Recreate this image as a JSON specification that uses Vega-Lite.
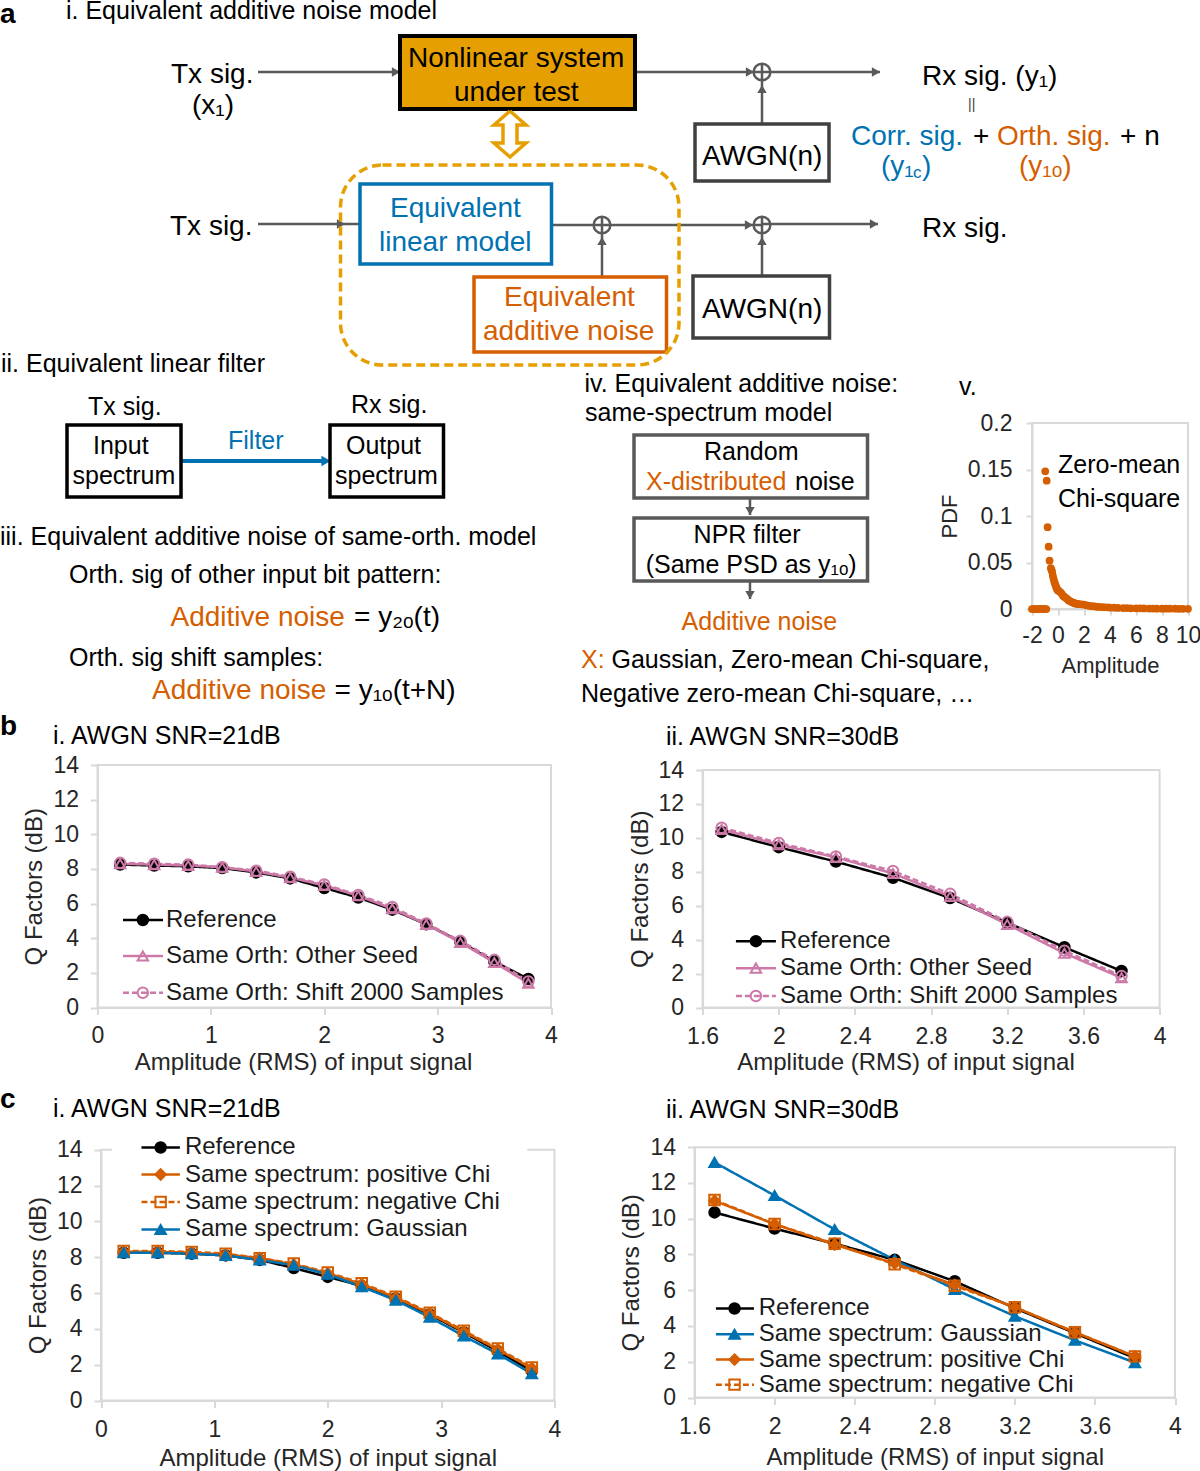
{
"$schema":"https://vega.github.io/schema/vega-lite/v6.json",
"autosize":"none",
"padding":{"left":97.5,"top":0,"right":1102.5,"bottom":1471},
"background":"#ffffff",
"columns":2,
"align":"none",
"bounds":"flush",
"spacing":{"column":100,"row":0},
"resolve":{"scale":{"stroke":"independent","fill":"independent","shape":"independent","strokeDash":"independent","color":"independent"}},
"config":{
  "view":{"stroke":null},
  "font":"Liberation Sans",
  "text":{"font":"Liberation Sans"},
  "axis":{"grid":false,"domainColor":"#d9d9d9","domainWidth":2,"tickColor":"#d9d9d9","tickWidth":2,"tickSize":7,"labelFont":"Liberation Sans","labelFontSize":23,"labelColor":"#262626","labelPadding":12,"labelFlush":false,"labelOverlap":false,"labelBound":false,"titleFont":"Liberation Sans","titleFontSize":24,"titleFontWeight":"normal","titleColor":"#262626"}
},
"datasets":{
  "t28":[
    {"x":171,"y":83,"label":"Tx sig.","tone":"black"},{"x":192,"y":114,"label":"(x₁)","tone":"black"},
    {"x":408,"y":67,"label":"Nonlinear system","tone":"black"},{"x":454,"y":101,"label":"under test","tone":"black"},
    {"x":702,"y":165,"label":"AWGN(n)","tone":"black"},{"x":922,"y":85,"label":"Rx sig. (y₁)","tone":"black"},
    {"x":851,"y":145,"label":"Corr. sig.","tone":"blue"},{"x":973,"y":145,"label":"+","tone":"black"},
    {"x":997,"y":145,"label":"Orth. sig.","tone":"orange"},{"x":1120,"y":145,"label":"+ n","tone":"black"},
    {"x":881,"y":175,"label":"(y₁","tone":"blue"},{"x":922,"y":175,"label":")","tone":"blue"},{"x":1019,"y":175,"label":"(y₁ₒ)","tone":"orange"},
    {"x":170,"y":235,"label":"Tx sig.","tone":"black"},{"x":390,"y":217,"label":"Equivalent","tone":"blue"},
    {"x":379,"y":251,"label":"linear model","tone":"blue"},{"x":504,"y":306,"label":"Equivalent","tone":"orange"},
    {"x":483,"y":340,"label":"additive noise","tone":"orange"},{"x":702,"y":318,"label":"AWGN(n)","tone":"black"},
    {"x":922,"y":237,"label":"Rx sig.","tone":"black"},{"x":170.5,"y":626,"label":"Additive noise","tone":"orange"},
    {"x":354,"y":626,"label":"= y₂ₒ(t)","tone":"black"},{"x":152,"y":699,"label":"Additive noise","tone":"orange"},
    {"x":334.5,"y":699,"label":"= y₁ₒ(t+N)","tone":"black"}
  ],
  "t25":[
    {"x":66,"y":19,"label":"i. Equivalent additive noise model","tone":"black"},
    {"x":1,"y":372,"label":"ii. Equivalent linear filter","tone":"black"},
    {"x":88,"y":415,"label":"Tx sig.","tone":"black"},{"x":351,"y":413,"label":"Rx sig.","tone":"black"},
    {"x":93,"y":454,"label":"Input","tone":"black"},{"x":72.5,"y":484,"label":"spectrum","tone":"black"},
    {"x":346,"y":454,"label":"Output","tone":"black"},{"x":335,"y":484,"label":"spectrum","tone":"black"},
    {"x":228,"y":449,"label":"Filter","tone":"blue"},
    {"x":0,"y":545,"label":"iii. Equivalent additive noise of same-orth. model","tone":"black"},
    {"x":69,"y":583,"label":"Orth. sig of other input bit pattern:","tone":"black"},
    {"x":69,"y":666,"label":"Orth. sig shift samples:","tone":"black"},
    {"x":584.5,"y":392,"label":"iv. Equivalent additive noise:","tone":"black"},
    {"x":585,"y":421,"label":"same-spectrum model","tone":"black"},
    {"x":704,"y":460,"label":"Random","tone":"black"},{"x":646,"y":490,"label":"X-distributed","tone":"orange"},
    {"x":795,"y":490,"label":"noise","tone":"black"},{"x":693.6,"y":543,"label":"NPR filter","tone":"black"},
    {"x":645.7,"y":573,"label":"(Same PSD as y₁ₒ)","tone":"black"},{"x":681.6,"y":630,"label":"Additive noise","tone":"orange"},
    {"x":581,"y":668,"label":"X:","tone":"orange"},{"x":611.5,"y":668,"label":"Gaussian, Zero-mean Chi-square,","tone":"black"},
    {"x":581,"y":702,"label":"Negative zero-mean Chi-square, …","tone":"black"},
    {"x":959,"y":395,"label":"v.","tone":"black"},{"x":1058,"y":473,"label":"Zero-mean","tone":"black"},{"x":1058,"y":507,"label":"Chi-square","tone":"black"},
    {"x":53,"y":744,"label":"i. AWGN SNR=21dB","tone":"black"},{"x":666,"y":745,"label":"ii. AWGN SNR=30dB","tone":"black"},
    {"x":53,"y":1117,"label":"i. AWGN SNR=21dB","tone":"black"},{"x":666,"y":1118,"label":"ii. AWGN SNR=30dB","tone":"black"}
  ],
  "letters":[{"x":0,"y":23,"label":"a"},{"x":0,"y":735,"label":"b"},{"x":0,"y":1108,"label":"c"}],
  "small":[{"x":968,"y":109,"label":"||"}],
  "sub":[{"x":913,"y":178,"label":"c"}],
  "wires":[
    {"x":258,"y":72,"x2":398,"y2":72},{"x":635,"y":72,"x2":880,"y2":72},{"x":762,"y":123,"x2":762,"y2":63},
    {"x":258,"y":224,"x2":360,"y2":224},{"x":552,"y":225,"x2":762,"y2":225},{"x":762,"y":224,"x2":878,"y2":224},
    {"x":602,"y":277,"x2":602,"y2":216},{"x":762,"y":275,"x2":762,"y2":216},
    {"x":750,"y":498,"x2":750,"y2":515},{"x":750,"y":581,"x2":750,"y2":599}
  ],
  "heads":[
    {"x":396,"y":72,"dir":"right"},{"x":750,"y":72,"dir":"right"},{"x":876,"y":72,"dir":"right"},{"x":762,"y":89,"dir":"up"},
    {"x":341,"y":224,"dir":"right"},{"x":749,"y":225,"dir":"right"},{"x":874,"y":224,"dir":"right"},
    {"x":602,"y":241,"dir":"up"},{"x":762,"y":241,"dir":"up"},{"x":750,"y":511,"dir":"down"},{"x":750,"y":595,"dir":"down"}
  ],
  "sums":[{"x":762,"y":72},{"x":602,"y":225},{"x":762,"y":225}],
  "filterLine":[{"x":181,"y":461,"x2":326,"y2":461}],
  "filterHead":[{"x":326,"y":461}],
  "filledBox":[{"x":400,"x2":635,"y":36,"y2":109}],
  "boxes":[
    {"x":695,"x2":829,"y":124,"y2":181,"tone":"dark"},{"x":360,"x2":551.5,"y":184,"y2":264,"tone":"blue"},
    {"x":474,"x2":666.5,"y":277,"y2":352,"tone":"orange"},{"x":693,"x2":829.5,"y":276,"y2":338,"tone":"dark"},
    {"x":67,"x2":181,"y":425,"y2":497,"tone":"black"},{"x":330,"x2":443.5,"y":425,"y2":497,"tone":"black"},
    {"x":634,"x2":867.5,"y":435,"y2":498,"tone":"gray"},{"x":634,"x2":867.5,"y":518,"y2":581,"tone":"gray"}
  ],
  "modelBox":[{"x":340.5,"x2":679,"y":165,"y2":365}],
  "doubleArrow":[
    {"x":510,"y":111,"step":0},{"x":526,"y":125,"step":1},{"x":517,"y":125,"step":2},{"x":517,"y":143,"step":3},
    {"x":526,"y":143,"step":4},{"x":510,"y":157,"step":5},{"x":494,"y":143,"step":6},{"x":503,"y":143,"step":7},
    {"x":503,"y":125,"step":8},{"x":494,"y":125,"step":9},{"x":510,"y":111,"step":10}
  ],
  "pdf":[
    {"a":-2,"p":0},{"a":-1.9,"p":0},{"a":-1.8,"p":0},{"a":-1.7,"p":0},{"a":-1.6,"p":0},{"a":-1.5,"p":0},{"a":-1.4,"p":0},{"a":-1.3,"p":0},{"a":-1.2,"p":0},{"a":-1.1,"p":0},{"a":-1,"p":0},{"a":-0.9,"p":0},
    {"a":-0.98,"p":0.148},{"a":-0.87,"p":0.138},{"a":-0.8,"p":0.088},{"a":-0.72,"p":0.067},{"a":-0.65,"p":0.052},{"a":-0.55,"p":0.044},{"a":-0.5,"p":0.042},{"a":-0.45,"p":0.04},{"a":-0.4,"p":0.036},{"a":-0.35,"p":0.033},{"a":-0.3,"p":0.03},{"a":-0.25,"p":0.028},{"a":-0.2,"p":0.026},{"a":-0.15,"p":0.024},{"a":-0.1,"p":0.022},{"a":-0.05,"p":0.021},{"a":0,"p":0.02},{"a":0.1,"p":0.019},{"a":0.2,"p":0.018},{"a":0.3,"p":0.016},{"a":0.4,"p":0.014},{"a":0.5,"p":0.013},{"a":0.6,"p":0.012},{"a":0.7,"p":0.011},{"a":0.8,"p":0.0095},{"a":0.9,"p":0.0085},{"a":1,"p":0.008},{"a":1.1,"p":0.0072},{"a":1.2,"p":0.0066},{"a":1.3,"p":0.006},{"a":1.4,"p":0.0058},{"a":1.5,"p":0.0055},{"a":1.6,"p":0.0052},{"a":1.8,"p":0.005},{"a":2,"p":0.0048},{"a":2.2,"p":0.004},{"a":2.4,"p":0.0034},{"a":2.6,"p":0.003},{"a":2.8,"p":0.0027},{"a":3,"p":0.0024},{"a":3.2,"p":0.0022},{"a":3.5,"p":0.002},{"a":3.8,"p":0.0018},{"a":4,"p":0.0016},{"a":4.3,"p":0.0014},{"a":4.6,"p":0.0012},{"a":5,"p":0.001},{"a":5.3,"p":0.001},{"a":5.6,"p":0.0008},{"a":6,"p":0.0007},{"a":6.3,"p":0.0007},{"a":6.6,"p":0.0006},{"a":7,"p":0.0005},{"a":7.3,"p":0.0005},{"a":7.6,"p":0.0004},{"a":8,"p":0.0004},{"a":8.3,"p":0.0003},{"a":8.6,"p":0.0003},{"a":9,"p":0.0003},{"a":9.3,"p":0.0002},{"a":9.6,"p":0.0002},{"a":10,"p":0.0002}
  ],
  "bi":[
    {"a":0.2,"q":8.25,"series":"Reference"},{"a":0.5,"q":8.2,"series":"Reference"},{"a":0.8,"q":8.15,"series":"Reference"},{"a":1.1,"q":8.05,"series":"Reference"},{"a":1.4,"q":7.8,"series":"Reference"},{"a":1.7,"q":7.45,"series":"Reference"},{"a":2,"q":6.9,"series":"Reference"},{"a":2.3,"q":6.35,"series":"Reference"},{"a":2.6,"q":5.65,"series":"Reference"},{"a":2.9,"q":4.8,"series":"Reference"},{"a":3.2,"q":3.8,"series":"Reference"},{"a":3.5,"q":2.65,"series":"Reference"},{"a":3.8,"q":1.65,"series":"Reference"},
    {"a":0.2,"q":8.3,"series":"Other Seed"},{"a":0.5,"q":8.25,"series":"Other Seed"},{"a":0.8,"q":8.2,"series":"Other Seed"},{"a":1.1,"q":8.1,"series":"Other Seed"},{"a":1.4,"q":7.85,"series":"Other Seed"},{"a":1.7,"q":7.5,"series":"Other Seed"},{"a":2,"q":7.05,"series":"Other Seed"},{"a":2.3,"q":6.45,"series":"Other Seed"},{"a":2.6,"q":5.7,"series":"Other Seed"},{"a":2.9,"q":4.8,"series":"Other Seed"},{"a":3.2,"q":3.75,"series":"Other Seed"},{"a":3.5,"q":2.6,"series":"Other Seed"},{"a":3.8,"q":1.4,"series":"Other Seed"},
    {"a":0.2,"q":8.35,"series":"Shift 2000"},{"a":0.5,"q":8.3,"series":"Shift 2000"},{"a":0.8,"q":8.25,"series":"Shift 2000"},{"a":1.1,"q":8.1,"series":"Shift 2000"},{"a":1.4,"q":7.9,"series":"Shift 2000"},{"a":1.7,"q":7.55,"series":"Shift 2000"},{"a":2,"q":7.1,"series":"Shift 2000"},{"a":2.3,"q":6.5,"series":"Shift 2000"},{"a":2.6,"q":5.8,"series":"Shift 2000"},{"a":2.9,"q":4.85,"series":"Shift 2000"},{"a":3.2,"q":3.85,"series":"Shift 2000"},{"a":3.5,"q":2.75,"series":"Shift 2000"},{"a":3.8,"q":1.5,"series":"Shift 2000"}
  ],
  "bii":[
    {"a":1.7,"q":10.35,"series":"Reference"},{"a":2,"q":9.45,"series":"Reference"},{"a":2.3,"q":8.6,"series":"Reference"},{"a":2.6,"q":7.65,"series":"Reference"},{"a":2.9,"q":6.45,"series":"Reference"},{"a":3.2,"q":5,"series":"Reference"},{"a":3.5,"q":3.55,"series":"Reference"},{"a":3.8,"q":2.15,"series":"Reference"},
    {"a":1.7,"q":10.5,"series":"Other Seed"},{"a":2,"q":9.6,"series":"Other Seed"},{"a":2.3,"q":8.85,"series":"Other Seed"},{"a":2.6,"q":7.9,"series":"Other Seed"},{"a":2.9,"q":6.55,"series":"Other Seed"},{"a":3.2,"q":4.9,"series":"Other Seed"},{"a":3.5,"q":3.2,"series":"Other Seed"},{"a":3.8,"q":1.75,"series":"Other Seed"},
    {"a":1.7,"q":10.6,"series":"Shift 2000"},{"a":2,"q":9.7,"series":"Shift 2000"},{"a":2.3,"q":8.9,"series":"Shift 2000"},{"a":2.6,"q":8.05,"series":"Shift 2000"},{"a":2.9,"q":6.7,"series":"Shift 2000"},{"a":3.2,"q":5.05,"series":"Shift 2000"},{"a":3.5,"q":3.35,"series":"Shift 2000"},{"a":3.8,"q":1.85,"series":"Shift 2000"}
  ],
  "ci":[
    {"a":0.2,"q":8.25,"series":"Reference"},{"a":0.5,"q":8.25,"series":"Reference"},{"a":0.8,"q":8.2,"series":"Reference"},{"a":1.1,"q":8.1,"series":"Reference"},{"a":1.4,"q":7.85,"series":"Reference"},{"a":1.7,"q":7.4,"series":"Reference"},{"a":2,"q":6.9,"series":"Reference"},{"a":2.3,"q":6.4,"series":"Reference"},{"a":2.6,"q":5.7,"series":"Reference"},{"a":2.9,"q":4.8,"series":"Reference"},{"a":3.2,"q":3.8,"series":"Reference"},{"a":3.5,"q":2.75,"series":"Reference"},{"a":3.8,"q":1.65,"series":"Reference"},
    {"a":0.2,"q":8.3,"series":"positive Chi"},{"a":0.5,"q":8.3,"series":"positive Chi"},{"a":0.8,"q":8.25,"series":"positive Chi"},{"a":1.1,"q":8.15,"series":"positive Chi"},{"a":1.4,"q":7.95,"series":"positive Chi"},{"a":1.7,"q":7.6,"series":"positive Chi"},{"a":2,"q":7.1,"series":"positive Chi"},{"a":2.3,"q":6.5,"series":"positive Chi"},{"a":2.6,"q":5.75,"series":"positive Chi"},{"a":2.9,"q":4.85,"series":"positive Chi"},{"a":3.2,"q":3.85,"series":"positive Chi"},{"a":3.5,"q":2.85,"series":"positive Chi"},{"a":3.8,"q":1.8,"series":"positive Chi"},
    {"a":0.2,"q":8.35,"series":"negative Chi"},{"a":0.5,"q":8.35,"series":"negative Chi"},{"a":0.8,"q":8.3,"series":"negative Chi"},{"a":1.1,"q":8.2,"series":"negative Chi"},{"a":1.4,"q":7.95,"series":"negative Chi"},{"a":1.7,"q":7.65,"series":"negative Chi"},{"a":2,"q":7.15,"series":"negative Chi"},{"a":2.3,"q":6.55,"series":"negative Chi"},{"a":2.6,"q":5.8,"series":"negative Chi"},{"a":2.9,"q":4.9,"series":"negative Chi"},{"a":3.2,"q":3.9,"series":"negative Chi"},{"a":3.5,"q":2.9,"series":"negative Chi"},{"a":3.8,"q":1.85,"series":"negative Chi"},
    {"a":0.2,"q":8.25,"series":"Gaussian"},{"a":0.5,"q":8.25,"series":"Gaussian"},{"a":0.8,"q":8.2,"series":"Gaussian"},{"a":1.1,"q":8.1,"series":"Gaussian"},{"a":1.4,"q":7.85,"series":"Gaussian"},{"a":1.7,"q":7.55,"series":"Gaussian"},{"a":2,"q":7.05,"series":"Gaussian"},{"a":2.3,"q":6.35,"series":"Gaussian"},{"a":2.6,"q":5.6,"series":"Gaussian"},{"a":2.9,"q":4.65,"series":"Gaussian"},{"a":3.2,"q":3.6,"series":"Gaussian"},{"a":3.5,"q":2.6,"series":"Gaussian"},{"a":3.8,"q":1.5,"series":"Gaussian"}
  ],
  "cii":[
    {"a":1.7,"q":10.35,"series":"Reference"},{"a":2,"q":9.45,"series":"Reference"},{"a":2.3,"q":8.6,"series":"Reference"},{"a":2.6,"q":7.7,"series":"Reference"},{"a":2.9,"q":6.5,"series":"Reference"},{"a":3.2,"q":5,"series":"Reference"},{"a":3.5,"q":3.6,"series":"Reference"},{"a":3.8,"q":2.2,"series":"Reference"},
    {"a":1.7,"q":13.15,"series":"Gaussian"},{"a":2,"q":11.3,"series":"Gaussian"},{"a":2.3,"q":9.4,"series":"Gaussian"},{"a":2.6,"q":7.7,"series":"Gaussian"},{"a":2.9,"q":6.05,"series":"Gaussian"},{"a":3.2,"q":4.55,"series":"Gaussian"},{"a":3.5,"q":3.2,"series":"Gaussian"},{"a":3.8,"q":1.95,"series":"Gaussian"},
    {"a":1.7,"q":11,"series":"positive Chi"},{"a":2,"q":9.7,"series":"positive Chi"},{"a":2.3,"q":8.55,"series":"positive Chi"},{"a":2.6,"q":7.5,"series":"positive Chi"},{"a":2.9,"q":6.3,"series":"positive Chi"},{"a":3.2,"q":5.05,"series":"positive Chi"},{"a":3.5,"q":3.65,"series":"positive Chi"},{"a":3.8,"q":2.3,"series":"positive Chi"},
    {"a":1.7,"q":11.05,"series":"negative Chi"},{"a":2,"q":9.7,"series":"negative Chi"},{"a":2.3,"q":8.6,"series":"negative Chi"},{"a":2.6,"q":7.45,"series":"negative Chi"},{"a":2.9,"q":6.25,"series":"negative Chi"},{"a":3.2,"q":5.05,"series":"negative Chi"},{"a":3.5,"q":3.65,"series":"negative Chi"},{"a":3.8,"q":2.3,"series":"negative Chi"}
  ],
  "biKey":[
    {"a":0.225,"a2":0.578,"am":0.4,"at":0.604,"q":5.05,"series":"Reference","label":"Reference"},
    {"a":0.225,"a2":0.578,"am":0.4,"at":0.604,"q":2.97,"series":"Other Seed","label":"Same Orth: Other Seed"},
    {"a":0.225,"a2":0.578,"am":0.4,"at":0.604,"q":0.85,"series":"Shift 2000","label":"Same Orth: Shift 2000 Samples"}
  ],
  "biiKey":[
    {"a":1.775,"a2":1.985,"am":1.88,"at":2.006,"q":3.91,"series":"Reference","label":"Reference"},
    {"a":1.775,"a2":1.985,"am":1.88,"at":2.006,"q":2.32,"series":"Other Seed","label":"Same Orth: Other Seed"},
    {"a":1.775,"a2":1.985,"am":1.88,"at":2.006,"q":0.68,"series":"Shift 2000","label":"Same Orth: Shift 2000 Samples"}
  ],
  "ciKey":[
    {"a":0.357,"a2":0.696,"am":0.526,"at":0.74,"q":14.13,"series":"Reference","label":"Reference"},
    {"a":0.357,"a2":0.696,"am":0.526,"at":0.74,"q":12.62,"series":"positive Chi","label":"Same spectrum: positive Chi"},
    {"a":0.357,"a2":0.696,"am":0.526,"at":0.74,"q":11.08,"series":"negative Chi","label":"Same spectrum: negative Chi"},
    {"a":0.357,"a2":0.696,"am":0.526,"at":0.74,"q":9.55,"series":"Gaussian","label":"Same spectrum: Gaussian"}
  ],
  "ciiKey":[
    {"a":1.707,"a2":1.897,"am":1.8,"at":1.921,"q":4.98,"series":"Reference","label":"Reference"},
    {"a":1.707,"a2":1.897,"am":1.8,"at":1.921,"q":3.54,"series":"Gaussian","label":"Same spectrum: Gaussian"},
    {"a":1.707,"a2":1.897,"am":1.8,"at":1.921,"q":2.12,"series":"positive Chi","label":"Same spectrum: positive Chi"},
    {"a":1.707,"a2":1.897,"am":1.8,"at":1.921,"q":0.72,"series":"negative Chi","label":"Same spectrum: negative Chi"}
  ]
},
"concat":[
{
  "width":497,"height":609,
  "encoding":{
    "x":{"field":"x","type":"quantitative","axis":null,"scale":{"domain":[0,1200],"range":[-97.5,1102.5]}},
    "y":{"field":"y","type":"quantitative","axis":null,"scale":{"domain":[0,1471],"range":[0,1471]}}
  },
  "layer":[
    {"data":{"name":"wires"},"mark":{"type":"rule","stroke":"#595959","strokeWidth":2.5},"encoding":{"x2":{"field":"x2"},"y2":{"field":"y2"}}},
    {"data":{"name":"heads"},"mark":{"type":"point","filled":true,"fill":"#595959","stroke":null,"opacity":1,"size":90},"encoding":{"shape":{"field":"dir","type":"nominal","legend":null,"scale":{"domain":["right","up","down"],"range":["triangle-right","triangle-up","triangle-down"]}}}},
    {"data":{"name":"sums"},"mark":{"type":"point","shape":"circle","filled":false,"stroke":"#595959","strokeWidth":2.5,"opacity":1,"size":280}},
    {"data":{"name":"filterLine"},"mark":{"type":"rule","stroke":"#0072B2","strokeWidth":4},"encoding":{"x2":{"field":"x2"},"y2":{"field":"y2"}}},
    {"data":{"name":"filterHead"},"mark":{"type":"point","shape":"triangle-right","filled":true,"fill":"#0072B2","stroke":null,"opacity":1,"size":110}},
    {"data":{"name":"filledBox"},"mark":{"type":"rect","fill":"#E69F00","stroke":"#000000","strokeWidth":4},"encoding":{"x2":{"field":"x2"},"y2":{"field":"y2"}}},
    {"data":{"name":"boxes"},"mark":{"type":"rect","fill":null,"strokeWidth":3.5},"encoding":{"x2":{"field":"x2"},"y2":{"field":"y2"},"stroke":{"field":"tone","type":"nominal","legend":null,"scale":{"domain":["black","dark","gray","blue","orange"],"range":["#000000","#404040","#595959","#0072B2","#D55E00"]}}}},
    {"data":{"name":"modelBox"},"mark":{"type":"rect","fill":null,"stroke":"#E69F00","strokeWidth":3.5,"strokeDash":[9,5],"cornerRadius":42},"encoding":{"x2":{"field":"x2"},"y2":{"field":"y2"}}},
    {"data":{"name":"doubleArrow"},"mark":{"type":"line","stroke":"#E69F00","strokeWidth":3.5,"strokeJoin":"miter"},"encoding":{"order":{"field":"step","type":"quantitative"}}},
    {"data":{"name":"t28"},"mark":{"type":"text","align":"left","baseline":"alphabetic","fontSize":28},"encoding":{"text":{"field":"label"},"color":{"field":"tone","type":"nominal","legend":null,"scale":{"domain":["black","blue","orange"],"range":["#000000","#0072B2","#D55E00"]}}}},
    {"data":{"name":"t25"},"mark":{"type":"text","align":"left","baseline":"alphabetic","fontSize":25},"encoding":{"text":{"field":"label"},"color":{"field":"tone","type":"nominal","legend":null,"scale":{"domain":["black","blue","orange"],"range":["#000000","#0072B2","#D55E00"]}}}},
    {"data":{"name":"letters"},"mark":{"type":"text","align":"left","baseline":"alphabetic","fontSize":28,"fontWeight":"bold","color":"#000000"},"encoding":{"text":{"field":"label"}}},
    {"data":{"name":"small"},"mark":{"type":"text","align":"left","baseline":"alphabetic","fontSize":14,"color":"#404040"},"encoding":{"text":{"field":"label"}}},
    {"data":{"name":"sub"},"mark":{"type":"text","align":"left","baseline":"alphabetic","fontSize":17,"color":"#0072B2"},"encoding":{"text":{"field":"label"}}}
  ]
},
{
  "width":493.5,"height":609,
  "encoding":{
    "x":{"field":"a","type":"quantitative","scale":{"domain":[-2,10],"range":[337.5,493.5],"nice":false,"zero":false},"axis":{"values":[-2,0,2,4,6,8,10],"labelExpr":"'' + datum.value","title":"Amplitude","labelFontSize":23,"titleFontSize":22,"labelPadding":9,"titlePadding":8,"tickSize":6}},
    "y":{"field":"p","type":"quantitative","scale":{"domain":[0,0.2],"range":[609,423],"nice":false,"zero":false},"axis":{"values":[0,0.05,0.1,0.15,0.2],"format":".2~f","offset":-337.5,"title":"PDF","labelFontSize":23,"titleFontSize":22,"labelPadding":14,"tickSize":6,"titlePadding":6}}
  },
  "layer":[
    {"data":{"values":[{"a":-2,"a2":10,"p":0,"p2":0.2}]},"mark":{"type":"rect","fill":null,"stroke":"#d9d9d9","strokeWidth":2},"encoding":{"x2":{"field":"a2"},"y2":{"field":"p2"}}},
    {"data":{"name":"pdf"},"mark":{"type":"circle","color":"#D55E00","opacity":1,"size":60}}
  ]
},
{
  "width":497,"height":398.5,
  "encoding":{
    "x":{"field":"a","type":"quantitative","scale":{"domain":[0,4],"range":[0,453.5],"nice":false,"zero":false},"axis":{"values":[0,1,2,3,4],"title":"Amplitude (RMS) of input signal","labelPadding":10,"titlePadding":3,"titleX":205.5}},
    "y":{"field":"q","type":"quantitative","scale":{"domain":[0,14],"range":[398.5,156],"nice":false,"zero":false},"axis":{"values":[0,2,4,6,8,10,12,14],"title":"Q Factors  (dB)","titlePadding":6}}
  },
  "layer":[
    {"data":{"values":[{"a":0,"a2":4,"q":0,"q2":14}]},"mark":{"type":"rect","fill":null,"stroke":"#d9d9d9","strokeWidth":2},"encoding":{"x2":{"field":"a2"},"y2":{"field":"q2"}}},
    {"data":{"name":"bi"},"mark":{"type":"line","strokeWidth":2.5},"encoding":{
      "stroke":{"field":"series","type":"nominal","legend":null,"scale":{"domain":["Reference","Other Seed","Shift 2000"],"range":["#000000","#CC79A7","#CC79A7"]}},
      "strokeDash":{"field":"series","type":"nominal","legend":null,"scale":{"domain":["Reference","Other Seed","Shift 2000"],"range":[[1,0],[1,0],[6,3]]}}}},
    {"data":{"name":"bi"},"mark":{"type":"point","opacity":1,"strokeWidth":2,"size":110},"encoding":{
      "stroke":{"field":"series","type":"nominal","legend":null,"scale":{"domain":["Reference","Other Seed","Shift 2000"],"range":["#000000","#CC79A7","#CC79A7"]}},
      "fill":{"field":"series","type":"nominal","legend":null,"scale":{"domain":["Reference","Other Seed","Shift 2000"],"range":["#000000","transparent","transparent"]}},
      "shape":{"field":"series","type":"nominal","legend":null,"scale":{"domain":["Reference","Other Seed","Shift 2000"],"range":["circle","triangle-up","circle"]}}}},
    {"data":{"name":"biKey"},"mark":{"type":"rule","strokeWidth":2.5},"encoding":{"x2":{"field":"a2"},
      "stroke":{"field":"series","type":"nominal","legend":null,"scale":{"domain":["Reference","Other Seed","Shift 2000"],"range":["#000000","#CC79A7","#CC79A7"]}},
      "strokeDash":{"field":"series","type":"nominal","legend":null,"scale":{"domain":["Reference","Other Seed","Shift 2000"],"range":[[1,0],[1,0],[6,3]]}}}},
    {"data":{"name":"biKey"},"mark":{"type":"point","opacity":1,"strokeWidth":2,"size":110},"encoding":{
      "x":{"field":"am","type":"quantitative","scale":{"domain":[0,4],"range":[0,453.5],"nice":false,"zero":false},"axis":{"values":[0,1,2,3,4],"title":"Amplitude (RMS) of input signal","labelPadding":10,"titlePadding":3,"titleX":205.5}},
      "stroke":{"field":"series","type":"nominal","legend":null,"scale":{"domain":["Reference","Other Seed","Shift 2000"],"range":["#000000","#CC79A7","#CC79A7"]}},
      "fill":{"field":"series","type":"nominal","legend":null,"scale":{"domain":["Reference","Other Seed","Shift 2000"],"range":["#000000","transparent","transparent"]}},
      "shape":{"field":"series","type":"nominal","legend":null,"scale":{"domain":["Reference","Other Seed","Shift 2000"],"range":["circle","triangle-up","circle"]}}}},
    {"data":{"name":"biKey"},"mark":{"type":"text","align":"left","baseline":"middle","fontSize":24,"color":"#1a1a1a"},"encoding":{
      "x":{"field":"at","type":"quantitative","scale":{"domain":[0,4],"range":[0,453.5],"nice":false,"zero":false},"axis":{"values":[0,1,2,3,4],"title":"Amplitude (RMS) of input signal","labelPadding":10,"titlePadding":3,"titleX":205.5}},
      "text":{"field":"label"}}}
  ]
},
{
  "width":465.1,"height":398.5,
  "encoding":{
    "x":{"field":"a","type":"quantitative","scale":{"domain":[1.6,4],"range":[8.1,465.1],"nice":false,"zero":false},"axis":{"values":[1.6,2,2.4,2.8,3.2,3.6,4],"format":".1~f","title":"Amplitude (RMS) of input signal","labelPadding":11,"titlePadding":2,"titleX":211}},
    "y":{"field":"q","type":"quantitative","scale":{"domain":[0,14],"range":[398.5,161],"nice":false,"zero":false},"axis":{"values":[0,2,4,6,8,10,12,14],"offset":-8.1,"title":"Q Factors  (dB)","titlePadding":6}}
  },
  "layer":[
    {"data":{"values":[{"a":1.6,"a2":4,"q":0,"q2":14}]},"mark":{"type":"rect","fill":null,"stroke":"#d9d9d9","strokeWidth":2},"encoding":{"x2":{"field":"a2"},"y2":{"field":"q2"}}},
    {"data":{"name":"bii"},"mark":{"type":"line","strokeWidth":2.5},"encoding":{
      "stroke":{"field":"series","type":"nominal","legend":null,"scale":{"domain":["Reference","Other Seed","Shift 2000"],"range":["#000000","#CC79A7","#CC79A7"]}},
      "strokeDash":{"field":"series","type":"nominal","legend":null,"scale":{"domain":["Reference","Other Seed","Shift 2000"],"range":[[1,0],[1,0],[6,3]]}}}},
    {"data":{"name":"bii"},"mark":{"type":"point","opacity":1,"strokeWidth":2,"size":110},"encoding":{
      "stroke":{"field":"series","type":"nominal","legend":null,"scale":{"domain":["Reference","Other Seed","Shift 2000"],"range":["#000000","#CC79A7","#CC79A7"]}},
      "fill":{"field":"series","type":"nominal","legend":null,"scale":{"domain":["Reference","Other Seed","Shift 2000"],"range":["#000000","transparent","transparent"]}},
      "shape":{"field":"series","type":"nominal","legend":null,"scale":{"domain":["Reference","Other Seed","Shift 2000"],"range":["circle","triangle-up","circle"]}}}},
    {"data":{"name":"biiKey"},"mark":{"type":"rule","strokeWidth":2.5},"encoding":{"x2":{"field":"a2"},
      "stroke":{"field":"series","type":"nominal","legend":null,"scale":{"domain":["Reference","Other Seed","Shift 2000"],"range":["#000000","#CC79A7","#CC79A7"]}},
      "strokeDash":{"field":"series","type":"nominal","legend":null,"scale":{"domain":["Reference","Other Seed","Shift 2000"],"range":[[1,0],[1,0],[6,3]]}}}},
    {"data":{"name":"biiKey"},"mark":{"type":"point","opacity":1,"strokeWidth":2,"size":110},"encoding":{
      "x":{"field":"am","type":"quantitative","scale":{"domain":[1.6,4],"range":[8.1,465.1],"nice":false,"zero":false},"axis":{"values":[1.6,2,2.4,2.8,3.2,3.6,4],"format":".1~f","title":"Amplitude (RMS) of input signal","labelPadding":11,"titlePadding":2,"titleX":211}},
      "stroke":{"field":"series","type":"nominal","legend":null,"scale":{"domain":["Reference","Other Seed","Shift 2000"],"range":["#000000","#CC79A7","#CC79A7"]}},
      "fill":{"field":"series","type":"nominal","legend":null,"scale":{"domain":["Reference","Other Seed","Shift 2000"],"range":["#000000","transparent","transparent"]}},
      "shape":{"field":"series","type":"nominal","legend":null,"scale":{"domain":["Reference","Other Seed","Shift 2000"],"range":["circle","triangle-up","circle"]}}}},
    {"data":{"name":"biiKey"},"mark":{"type":"text","align":"left","baseline":"middle","fontSize":24,"color":"#1a1a1a"},"encoding":{
      "x":{"field":"at","type":"quantitative","scale":{"domain":[1.6,4],"range":[8.1,465.1],"nice":false,"zero":false},"axis":{"values":[1.6,2,2.4,2.8,3.2,3.6,4],"format":".1~f","title":"Amplitude (RMS) of input signal","labelPadding":11,"titlePadding":2,"titleX":211}},
      "text":{"field":"label"}}}
  ]
},
{
  "width":497,"height":392.5,
  "encoding":{
    "x":{"field":"a","type":"quantitative","scale":{"domain":[0,4],"range":[3.5,457],"nice":false,"zero":false},"axis":{"values":[0,1,2,3,4],"title":"Amplitude (RMS) of  input signal","labelPadding":11,"titlePadding":5}},
    "y":{"field":"q","type":"quantitative","scale":{"domain":[0,14],"range":[392.5,141.8],"nice":false,"zero":false},"axis":{"values":[0,2,4,6,8,10,12,14],"offset":-3.5,"title":"Q Factors  (dB)","titlePadding":6}}
  },
  "layer":[
    {"data":{"values":[{"a":0,"a2":4,"q":0,"q2":14}]},"mark":{"type":"rect","fill":null,"stroke":"#d9d9d9","strokeWidth":2},"encoding":{"x2":{"field":"a2"},"y2":{"field":"q2"}}},
    {"data":{"values":[{"a":0.097,"a2":3.76,"q":9,"q2":14.6}]},"mark":{"type":"rect","fill":"#ffffff","stroke":null},"encoding":{"x2":{"field":"a2"},"y2":{"field":"q2"}}},
    {"data":{"name":"ci"},"mark":{"type":"line","strokeWidth":2.5},"encoding":{
      "stroke":{"field":"series","type":"nominal","legend":null,"scale":{"domain":["Reference","positive Chi","negative Chi","Gaussian"],"range":["#000000","#D55E00","#D55E00","#0072B2"]}},
      "strokeDash":{"field":"series","type":"nominal","legend":null,"scale":{"domain":["Reference","positive Chi","negative Chi","Gaussian"],"range":[[1,0],[1,0],[6,3],[1,0]]}}}},
    {"data":{"name":"ci"},"mark":{"type":"point","opacity":1,"strokeWidth":2,"size":110},"encoding":{
      "stroke":{"field":"series","type":"nominal","legend":null,"scale":{"domain":["Reference","positive Chi","negative Chi","Gaussian"],"range":["#000000","#D55E00","#D55E00","#0072B2"]}},
      "fill":{"field":"series","type":"nominal","legend":null,"scale":{"domain":["Reference","positive Chi","negative Chi","Gaussian"],"range":["#000000","#D55E00","transparent","#0072B2"]}},
      "shape":{"field":"series","type":"nominal","legend":null,"scale":{"domain":["Reference","positive Chi","negative Chi","Gaussian"],"range":["circle","diamond","square","triangle-up"]}}}},
    {"data":{"name":"ciKey"},"mark":{"type":"rule","strokeWidth":2.5},"encoding":{"x2":{"field":"a2"},
      "stroke":{"field":"series","type":"nominal","legend":null,"scale":{"domain":["Reference","positive Chi","negative Chi","Gaussian"],"range":["#000000","#D55E00","#D55E00","#0072B2"]}},
      "strokeDash":{"field":"series","type":"nominal","legend":null,"scale":{"domain":["Reference","positive Chi","negative Chi","Gaussian"],"range":[[1,0],[1,0],[6,3],[1,0]]}}}},
    {"data":{"name":"ciKey"},"mark":{"type":"point","opacity":1,"strokeWidth":2,"size":110},"encoding":{
      "x":{"field":"am","type":"quantitative","scale":{"domain":[0,4],"range":[3.5,457],"nice":false,"zero":false},"axis":{"values":[0,1,2,3,4],"title":"Amplitude (RMS) of  input signal","labelPadding":11,"titlePadding":5}},
      "stroke":{"field":"series","type":"nominal","legend":null,"scale":{"domain":["Reference","positive Chi","negative Chi","Gaussian"],"range":["#000000","#D55E00","#D55E00","#0072B2"]}},
      "fill":{"field":"series","type":"nominal","legend":null,"scale":{"domain":["Reference","positive Chi","negative Chi","Gaussian"],"range":["#000000","#D55E00","transparent","#0072B2"]}},
      "shape":{"field":"series","type":"nominal","legend":null,"scale":{"domain":["Reference","positive Chi","negative Chi","Gaussian"],"range":["circle","diamond","square","triangle-up"]}}}},
    {"data":{"name":"ciKey"},"mark":{"type":"text","align":"left","baseline":"middle","fontSize":24,"color":"#1a1a1a"},"encoding":{
      "x":{"field":"at","type":"quantitative","scale":{"domain":[0,4],"range":[3.5,457],"nice":false,"zero":false},"axis":{"values":[0,1,2,3,4],"title":"Amplitude (RMS) of  input signal","labelPadding":11,"titlePadding":5}},
      "text":{"field":"label"}}}
  ]
},
{
  "width":480.5,"height":389.5,
  "encoding":{
    "x":{"field":"a","type":"quantitative","scale":{"domain":[1.6,4],"range":[0,480.5],"nice":false,"zero":false},"axis":{"values":[1.6,2,2.4,2.8,3.2,3.6,4],"format":".1~f","title":"Amplitude (RMS) of input signal","labelPadding":11,"titlePadding":7}},
    "y":{"field":"q","type":"quantitative","scale":{"domain":[0,14],"range":[389.5,139.2],"nice":false,"zero":false},"axis":{"values":[0,2,4,6,8,10,12,14],"title":"Q Factors  (dB)","titlePadding":6}}
  },
  "layer":[
    {"data":{"values":[{"a":1.6,"a2":4,"q":0,"q2":14}]},"mark":{"type":"rect","fill":null,"stroke":"#d9d9d9","strokeWidth":2},"encoding":{"x2":{"field":"a2"},"y2":{"field":"q2"}}},
    {"data":{"name":"cii"},"mark":{"type":"line","strokeWidth":2.5},"encoding":{
      "stroke":{"field":"series","type":"nominal","legend":null,"scale":{"domain":["Reference","positive Chi","negative Chi","Gaussian"],"range":["#000000","#D55E00","#D55E00","#0072B2"]}},
      "strokeDash":{"field":"series","type":"nominal","legend":null,"scale":{"domain":["Reference","positive Chi","negative Chi","Gaussian"],"range":[[1,0],[1,0],[6,3],[1,0]]}}}},
    {"data":{"name":"cii"},"mark":{"type":"point","opacity":1,"strokeWidth":2,"size":110},"encoding":{
      "stroke":{"field":"series","type":"nominal","legend":null,"scale":{"domain":["Reference","positive Chi","negative Chi","Gaussian"],"range":["#000000","#D55E00","#D55E00","#0072B2"]}},
      "fill":{"field":"series","type":"nominal","legend":null,"scale":{"domain":["Reference","positive Chi","negative Chi","Gaussian"],"range":["#000000","#D55E00","transparent","#0072B2"]}},
      "shape":{"field":"series","type":"nominal","legend":null,"scale":{"domain":["Reference","positive Chi","negative Chi","Gaussian"],"range":["circle","diamond","square","triangle-up"]}}}},
    {"data":{"name":"ciiKey"},"mark":{"type":"rule","strokeWidth":2.5},"encoding":{"x2":{"field":"a2"},
      "stroke":{"field":"series","type":"nominal","legend":null,"scale":{"domain":["Reference","positive Chi","negative Chi","Gaussian"],"range":["#000000","#D55E00","#D55E00","#0072B2"]}},
      "strokeDash":{"field":"series","type":"nominal","legend":null,"scale":{"domain":["Reference","positive Chi","negative Chi","Gaussian"],"range":[[1,0],[1,0],[6,3],[1,0]]}}}},
    {"data":{"name":"ciiKey"},"mark":{"type":"point","opacity":1,"strokeWidth":2,"size":110},"encoding":{
      "x":{"field":"am","type":"quantitative","scale":{"domain":[1.6,4],"range":[0,480.5],"nice":false,"zero":false},"axis":{"values":[1.6,2,2.4,2.8,3.2,3.6,4],"format":".1~f","title":"Amplitude (RMS) of input signal","labelPadding":11,"titlePadding":7}},
      "stroke":{"field":"series","type":"nominal","legend":null,"scale":{"domain":["Reference","positive Chi","negative Chi","Gaussian"],"range":["#000000","#D55E00","#D55E00","#0072B2"]}},
      "fill":{"field":"series","type":"nominal","legend":null,"scale":{"domain":["Reference","positive Chi","negative Chi","Gaussian"],"range":["#000000","#D55E00","transparent","#0072B2"]}},
      "shape":{"field":"series","type":"nominal","legend":null,"scale":{"domain":["Reference","positive Chi","negative Chi","Gaussian"],"range":["circle","diamond","square","triangle-up"]}}}},
    {"data":{"name":"ciiKey"},"mark":{"type":"text","align":"left","baseline":"middle","fontSize":24,"color":"#1a1a1a"},"encoding":{
      "x":{"field":"at","type":"quantitative","scale":{"domain":[1.6,4],"range":[0,480.5],"nice":false,"zero":false},"axis":{"values":[1.6,2,2.4,2.8,3.2,3.6,4],"format":".1~f","title":"Amplitude (RMS) of input signal","labelPadding":11,"titlePadding":7}},
      "text":{"field":"label"}}}
  ]
}
]
}
